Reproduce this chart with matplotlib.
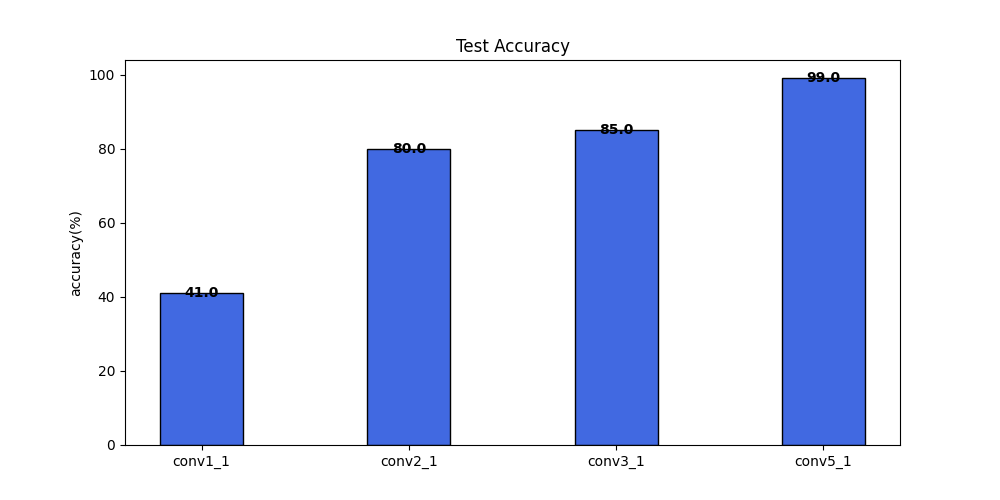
import matplotlib
matplotlib.use("Agg")
import matplotlib.pyplot as plt

categories = ["conv1_1", "conv2_1", "conv3_1", "conv5_1"]
accuracy = [41.0, 80.0, 85.0, 99.0]

fig, ax = plt.subplots(figsize=(10, 5), dpi=100)
x = range(len(categories))
bars = ax.bar(x, accuracy, width=0.4, color="royalblue", edgecolor="black")
for xi, v in zip(x, accuracy):
    ax.text(xi, v, f"{v:.1f}", ha="center", va="center", fontweight="bold")
ax.set_xticks(list(x))
ax.set_xticklabels(categories)
ax.set_ylabel("accuracy(%)")
ax.set_title("Test Accuracy")
fig.savefig("out.png")
